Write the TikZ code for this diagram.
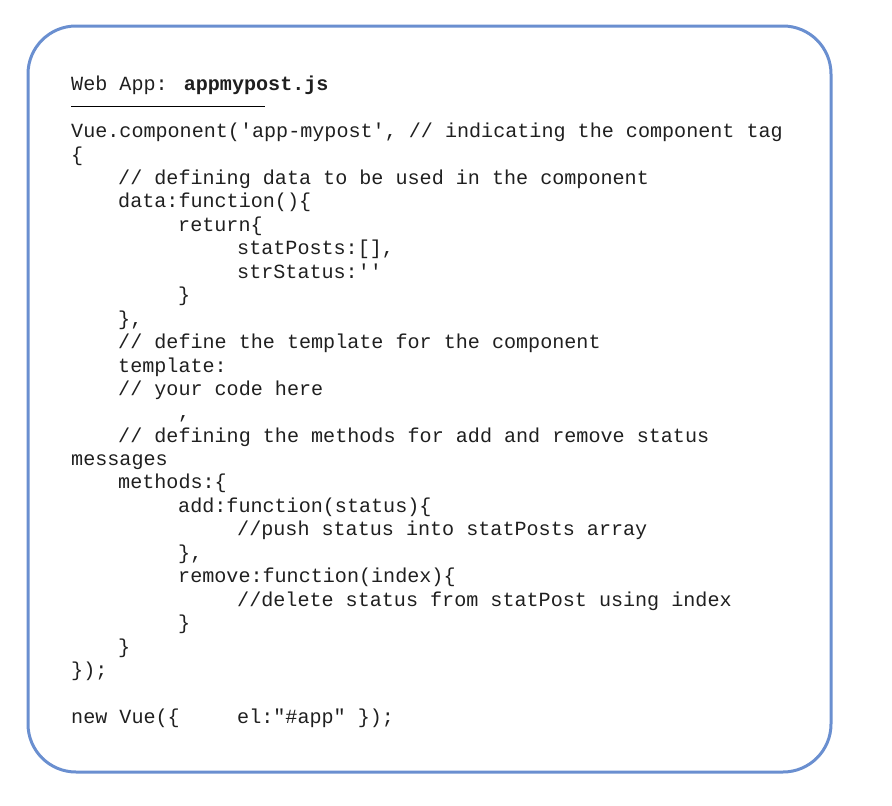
\documentclass[tikz,border=0pt]{standalone}
\usepackage{fontspec}
\newfontfamily\cf{Liberation Mono}
\begin{document}
\begin{tikzpicture}[x=1pt,y=-1pt,
  code/.style={anchor=mid west,inner sep=0pt,font=\cf\fontsize{20.1}{23.5}\selectfont,text=black!88,yshift=-4pt}]
\useasboundingbox (0,0) rectangle (892,806);
\draw[line width=3pt,draw={rgb,255:red,106;green,143;blue,208},rounded corners=48pt] (28,26) rectangle (831,772);
\node[code] (t0) at (71,84) {Web App:\textbf{ appmypost.js}};
\draw[line width=1pt] (71,106) -- (265,106);
\node[code] (l1) at (71,131) {Vue.component('app-mypost', // indicating the component tag};
\node[code] (l2) at (71,155) {\{};
\node[code] (l3) at (118,178) {// defining data to be used in the component};
\node[code] (l4) at (118,201) {data:function()\{};
\node[code] (l5) at (178,225) {return\{};
\node[code] (l6) at (237,248) {statPosts:[],};
\node[code] (l7) at (237,272) {strStatus:''};
\node[code] (l8) at (178,295) {\}};
\node[code] (l9) at (118,319) {\},};
\node[code] (l10) at (118,342) {// define the template for the component};
\node[code] (l11) at (118,366) {template:};
\node[code] (l12) at (118,389) {// your code here};
\node[code] (l13) at (178,412) {,};
\node[code] (l14) at (118,436) {// defining the methods for add and remove status};
\node[code] (l15) at (71,459) {messages};
\node[code] (l16) at (118,482) {methods:\{};
\node[code] (l17) at (178,506) {add:function(status)\{};
\node[code] (l18) at (237,529) {//push status into statPosts array};
\node[code] (l19) at (178,553) {\},};
\node[code] (l20) at (178,576) {remove:function(index)\{};
\node[code] (l21) at (237,600) {//delete status from statPost using index};
\node[code] (l22) at (178,623) {\}};
\node[code] (l23) at (118,647) {\}};
\node[code] (l24) at (71,670) {\});};
\node[code] (l25) at (71,717) {new Vue(\{};
\node[code] (l26) at (237,717) {el:"\#app" \});};
\end{tikzpicture}
\end{document}
